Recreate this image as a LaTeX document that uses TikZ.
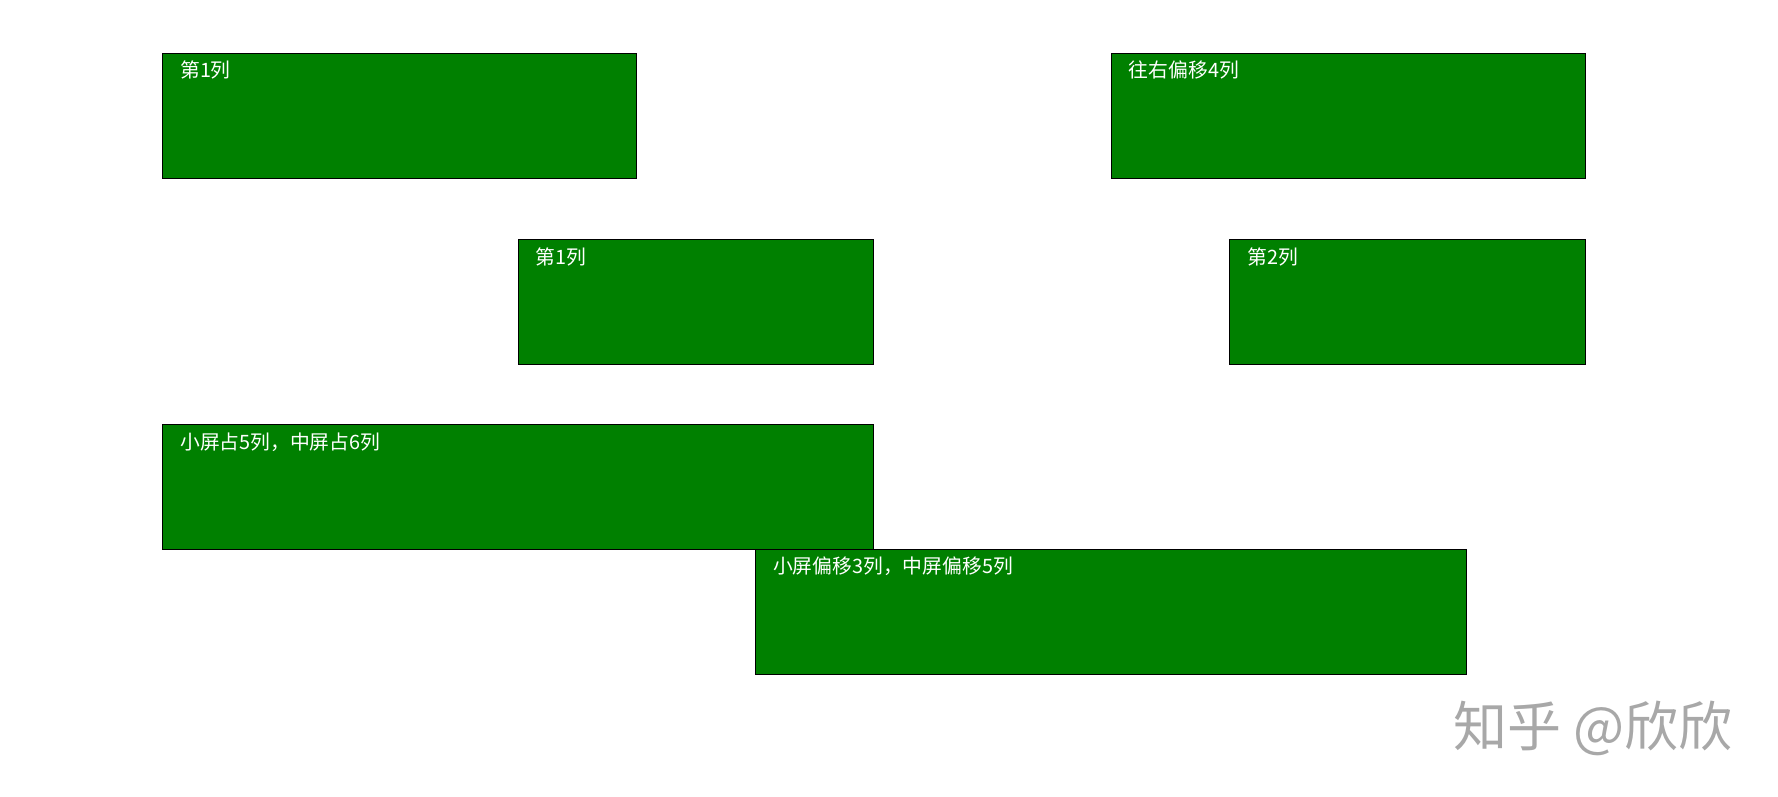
\documentclass[tikz,border=0pt]{standalone}
\usepackage{fontspec}
\setmainfont{Noto Sans CJK SC}
\usepackage{tikz}
\usetikzlibrary{positioning}
\definecolor{colgreen}{HTML}{008000}
\definecolor{markgray}{HTML}{A8A8A8}
\newcommand{\C}{118.58} % width of one grid column
\newcommand{\Left}{162}  % left edge of the grid

\begin{document}
\begin{tikzpicture}[x=1pt,y=-1pt,
    colbox/.style={draw=black, line width=1pt, fill=colgreen, anchor=north west,
                   inner sep=0pt, minimum height=125pt},
    colspan/.style={minimum width=#1*\C pt},
    coltext/.style={text=white, anchor=base west, inner sep=0pt,
                    font=\fontsize{19.8}{22}\selectfont}]
            \useasboundingbox (0,0) rectangle (1778,797);

            % first row: 4 columns, then 4 columns offset by 4
            \path (\Left,53) node[colbox, colspan=4] (R1a) {};
            \path (\Left+8*\C,53) node[colbox, colspan=4] (R1b) {};

            % second row: 3 columns offset by 3, then 3 columns offset by 3
            \path (\Left+3*\C,239) node[colbox, colspan=3] (R2a) {};
            \path (\Left+9*\C,239) node[colbox, colspan=3] (R2b) {};

            % third row: 6 columns, then 6 columns offset by 5
            \path (\Left,424) node[colbox, colspan=6] (R3a) {};
            \path (\Left+5*\C,548.5) node[colbox, colspan=6] (R3b) {};

            % labels in the top left corner of each box
            \path ([shift={(18,25)}]R1a.north west) node[coltext] (T1a) {第1列};
            \path ([shift={(18,25)}]R1b.north west) node[coltext] (T1b) {往右偏移4列};
            \path ([shift={(18,25)}]R2a.north west) node[coltext] (T2a) {第1列};
            \path ([shift={(18,25)}]R2b.north west) node[coltext] (T2b) {第2列};
            \path ([shift={(18,25)}]R3a.north west) node[coltext] (T3a) {小屏占5列，中屏占6列};
            \path ([shift={(18,25)}]R3b.north west) node[coltext] (T3b) {小屏偏移3列，中屏偏移5列};

            % watermark
            \path (1453,746) node[anchor=base west, inner sep=0pt, text=markgray,
                font=\fontsize{54}{58}\selectfont] (W) {知乎 @欣欣};

        \end{tikzpicture}
\end{document}
